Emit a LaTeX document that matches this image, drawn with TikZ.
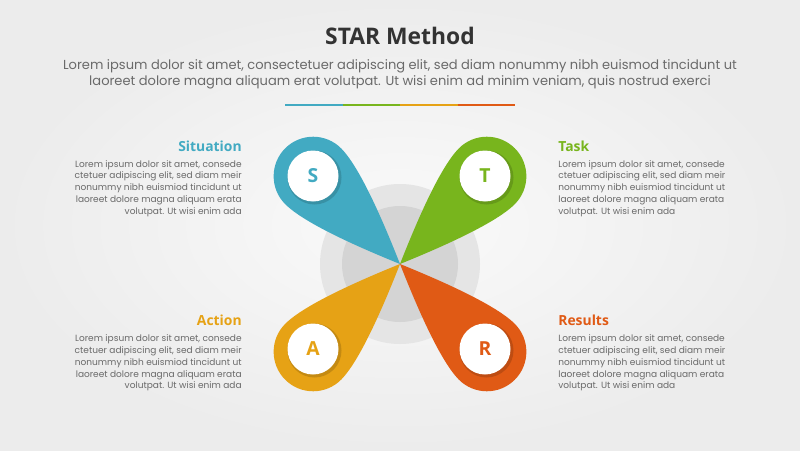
\documentclass[tikz,border=0pt]{standalone}
\usepackage{fontspec}
\setmainfont{Poppins}
\newfontfamily\headfont{Open Sans}
\usetikzlibrary{positioning}

\definecolor{sblue}{HTML}{42AAC2}
\definecolor{tgreen}{HTML}{78B51D}
\definecolor{aorange}{HTML}{E6A215}
\definecolor{rred}{HTML}{E05A15}
\definecolor{bgpage}{HTML}{ECECEC}
\definecolor{bglight}{HTML}{FAFAFA}
\definecolor{bodygray}{HTML}{6A6A6A}

\begin{document}
\begin{tikzpicture}[every node/.style={inner sep=0pt},
	title/.style={font=\headfont\bfseries\fontsize{13}{15}\selectfont, text=black!80},
	lead/.style={font=\fontsize{7.42}{9.1}\selectfont, text=bodygray, align=center},
	head/.style={font=\headfont\bfseries\fontsize{7.9}{10}\selectfont},
	body/.style={font=\fontsize{5.13}{6.7}\selectfont, text=bodygray},
	letter/.style={draw=none, circle, fill=white, minimum size=10.2mm, font=\headfont\bfseries\fontsize{11}{12}\selectfont}]
	\shade[inner color=bglight, outer color=bgpage] (0,0) rectangle (16,9);
	\useasboundingbox (0,0) rectangle (16,9);
	\node[title] (ttl) at (8,8.28) {STAR Method};
	\node[lead] (lead) at (8,7.52) {Lorem ipsum dolor sit amet, consectetuer adipiscing elit, sed diam nonummy nibh euismod tincidunt ut\\laoreet dolore magna aliquam erat volutpat. Ut wisi enim ad minim veniam, quis nostrud exerci};
	\draw[sblue, line width=1.7pt] (5.7,6.9) -- (6.85,6.9);
	\draw[tgreen, line width=1.7pt] (6.85,6.9) -- (8,6.9);
	\draw[aorange, line width=1.7pt] (8,6.9) -- (9.15,6.9);
	\draw[rred, line width=1.7pt] (9.15,6.9) -- (10.3,6.9);
	\coordinate (hub) at (8,3.72);
	\fill[black!10] (hub) circle (1.6);
	\fill[black!17] (hub) circle (1.16);
	\fill[sblue, shift={(hub)}, rotate=134.7] (0,0) .. controls (0.7,0.3) and (1.9,0.79) .. (2.47,0.79) arc[start angle=90, end angle=-90, radius=0.79] .. controls (1.9,-0.79) and (0.7,-0.3) .. (0,0);
	\fill[tgreen, shift={(hub)}, rotate=45.3] (0,0) .. controls (0.7,0.3) and (1.9,0.79) .. (2.47,0.79) arc[start angle=90, end angle=-90, radius=0.79] .. controls (1.9,-0.79) and (0.7,-0.3) .. (0,0);
	\fill[aorange, shift={(hub)}, rotate=225.3] (0,0) .. controls (0.7,0.3) and (1.9,0.79) .. (2.47,0.79) arc[start angle=90, end angle=-90, radius=0.79] .. controls (1.9,-0.79) and (0.7,-0.3) .. (0,0);
	\fill[rred, shift={(hub)}, rotate=314.7] (0,0) .. controls (0.7,0.3) and (1.9,0.79) .. (2.47,0.79) arc[start angle=90, end angle=-90, radius=0.79] .. controls (1.9,-0.79) and (0.7,-0.3) .. (0,0);
	\fill[sblue!85!black] (6.29,5.45) circle (0.54);
	\fill[tgreen!85!black] (9.73,5.45) circle (0.54);
	\fill[aorange!85!black] (6.29,1.99) circle (0.54);
	\fill[rred!85!black] (9.73,1.99) circle (0.54);
	\node[letter, text=sblue] (S) at (6.26,5.48) {S};
	\node[letter, text=tgreen] (T) at (9.7,5.48) {T};
	\node[letter, text=aorange] (A) at (6.26,2.02) {A};
	\node[letter, text=rred] (R) at (9.7,2.02) {R};
	\node[head, text=sblue, anchor=east] (sit) at (4.84,6.08) {Situation};
	\node[body, align=right, anchor=north east] (sitx) at (4.84,5.8) {Lorem ipsum dolor sit amet, consede\\ctetuer adipiscing elit, sed diam meir\\nonummy nibh euismiod tincidunt ut\\laoreet dolore magna aliquam erata\\volutpat. Ut wisi enim ada};
	\node[head, text=tgreen, anchor=west] (task) at (11.16,6.08) {Task};
	\node[body, align=left, anchor=north west] (taskx) at (11.16,5.8) {Lorem ipsum dolor sit amet, consede\\ctetuer adipiscing elit, sed diam meir\\nonummy nibh euismiod tincidunt ut\\laoreet dolore magna aliquam erata\\volutpat. Ut wisi enim ada};
	\node[head, text=aorange, anchor=east] (act) at (4.84,2.6) {Action};
	\node[body, align=right, anchor=north east] (actx) at (4.84,2.31) {Lorem ipsum dolor sit amet, consede\\ctetuer adipiscing elit, sed diam meir\\nonummy nibh euismiod tincidunt ut\\laoreet dolore magna aliquam erata\\volutpat. Ut wisi enim ada};
	\node[head, text=rred, anchor=west] (res) at (11.16,2.6) {Results};
	\node[body, align=left, anchor=north west] (resx) at (11.16,2.31) {Lorem ipsum dolor sit amet, consede\\ctetuer adipiscing elit, sed diam meir\\nonummy nibh euismiod tincidunt ut\\laoreet dolore magna aliquam erata\\volutpat. Ut wisi enim ada};
\end{tikzpicture}
\end{document}
